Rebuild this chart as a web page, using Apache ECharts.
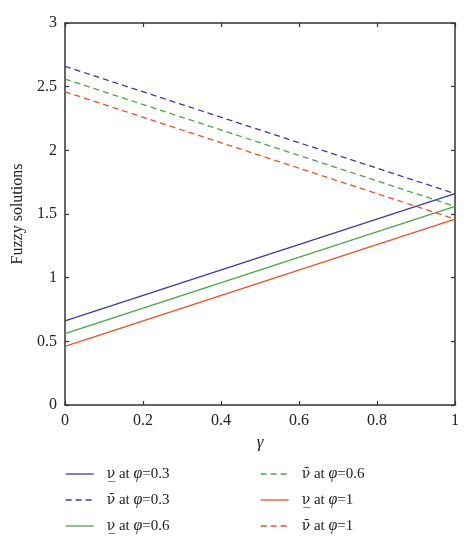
<!DOCTYPE html>
<html><head><meta charset="utf-8">
<script src="https://cdn.jsdelivr.net/npm/echarts@6/dist/echarts.min.js"></script>
<style>html,body{margin:0;padding:0;background:#fff}#c{width:474px;height:550px}</style>
</head><body><div id="c"></div>
<script>
const gammaValues = [0, 1];
const lowerPhi03 = [0.66, 1.66];
const upperPhi03 = [2.66, 1.66];
const lowerPhi06 = [0.56, 1.56];
const upperPhi06 = [2.56, 1.56];
const lowerPhi1 = [0.46, 1.46];
const upperPhi1 = [2.46, 1.46];
const xTicks = [0, 0.2, 0.4, 0.6, 0.8, 1];
const yTicks = [0, 0.5, 1, 1.5, 2, 2.5, 3];

const BLUE = '#3b3b9c', GREEN = '#4ea24e', RED = '#e2542c';
const FONT = 'Liberation Serif';
const pair = arr => gammaValues.map((g, i) => [g, arr[i]]);

const seriesDefs = [
  {name: 'l03', data: lowerPhi03, color: BLUE, dash: 'solid', label: '{u|ν̲} at {i|φ}=0.3'},
  {name: 'u03', data: upperPhi03, color: BLUE, dash: [6, 4], label: '{u|ν̄} at {i|φ}=0.3'},
  {name: 'l06', data: lowerPhi06, color: GREEN, dash: 'solid', label: '{u|ν̲} at {i|φ}=0.6'},
  {name: 'u06', data: upperPhi06, color: GREEN, dash: [6, 4], label: '{u|ν̄} at {i|φ}=0.6'},
  {name: 'l1', data: lowerPhi1, color: RED, dash: 'solid', label: '{u|ν̲} at {i|φ}=1'},
  {name: 'u1', data: upperPhi1, color: RED, dash: [6, 4], label: '{u|ν̄} at {i|φ}=1'}
];
const labelMap = {};
seriesDefs.forEach(s => labelMap[s.name] = s.label);

const axisLine = {show: true, onZero: false, lineStyle: {color: '#333', width: 1.5}};
const tick = {inside: true, length: 4, lineStyle: {color: '#333', width: 1.2}};
const legendText = {
  fontFamily: FONT, fontSize: 15, color: '#222', padding: [0, 0, 0, 8],
  rich: {
    u: {fontFamily: 'DejaVu Serif', fontSize: 14, color: '#222'},
    i: {fontFamily: FONT, fontStyle: 'italic', fontSize: 16, color: '#222'}
  }
};
const mkLegend = (left, names) => ({
  left: left, top: 461, orient: 'vertical', itemWidth: 28, itemHeight: 14, itemGap: 10,
  data: names, formatter: n => labelMap[n], textStyle: legendText,
  itemStyle: {opacity: 0}, lineStyle: {width: 1.3}
});

const chart = echarts.init(document.getElementById('c'));
chart.setOption({
  animation: false,
  backgroundColor: '#fff',
  grid: {left: 65, right: 19, top: 23, bottom: 145},
  xAxis: [
    {type: 'value', min: 0, max: 1, interval: 0.2, axisLine: axisLine, axisTick: tick,
     axisLabel: {fontFamily: FONT, fontSize: 16, color: '#222', margin: 8, formatter: v => String(v)},
     splitLine: {show: false},
     name: 'γ', nameLocation: 'middle', nameGap: 26,
     nameTextStyle: {fontFamily: FONT, fontStyle: 'italic', fontSize: 17, color: '#222'}},
    {type: 'value', min: 0, max: 1, interval: 0.2, position: 'top', axisLine: axisLine, axisTick: tick,
     axisLabel: {show: false}, splitLine: {show: false}}
  ],
  yAxis: [
    {type: 'value', min: 0, max: 3, interval: 0.5, axisLine: axisLine, axisTick: tick,
     axisLabel: {fontFamily: FONT, fontSize: 16, color: '#222', margin: 8, formatter: v => String(v)},
     splitLine: {show: false},
     name: 'Fuzzy solutions', nameLocation: 'middle', nameGap: 37,
     nameTextStyle: {fontFamily: FONT, fontSize: 16, color: '#222'}},
    {type: 'value', min: 0, max: 3, interval: 0.5, position: 'right', axisLine: axisLine, axisTick: tick,
     axisLabel: {show: false}, splitLine: {show: false}}
  ],
  legend: [
    mkLegend(60, ['l03', 'u03', 'l06']),
    mkLegend(255, ['u06', 'l1', 'u1'])
  ],
  series: seriesDefs.map(s => ({
    name: s.name, type: 'line', data: pair(s.data), symbol: 'none',
    lineStyle: {color: s.color, width: 1.3, type: s.dash},
    itemStyle: {color: s.color}
  }))
});
</script></body></html>
